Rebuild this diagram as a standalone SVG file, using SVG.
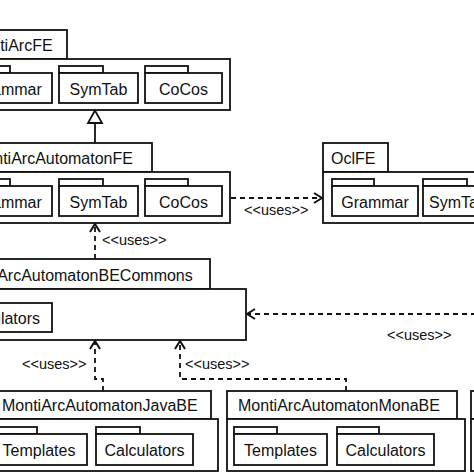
<svg xmlns="http://www.w3.org/2000/svg" width="474" height="474" viewBox="0 0 474 474">
<defs>
<style>
.b{fill:#fff;stroke:#111;stroke-width:1.8}
.t{font-family:"Liberation Sans",Arial,sans-serif;font-size:16px;fill:#111}
.c{text-anchor:middle}
.l{font-family:"Liberation Sans",Arial,sans-serif;font-size:14.5px;fill:#111}
.d{fill:none;stroke:#111;stroke-width:1.8;stroke-dasharray:5,4}
</style>
<marker id="open" viewBox="0 0 10 12" refX="9" refY="6" markerWidth="10" markerHeight="12" markerUnits="userSpaceOnUse" orient="auto">
<path d="M1,1 L9,6 L1,11" fill="none" stroke="#111" stroke-width="2"/>
</marker>
</defs>
<rect width="474" height="474" fill="#fff"/>

<g id="MontiArcFE">
<rect class="b" x="-40" y="30" width="107" height="29"/>
<rect class="b" x="-40" y="59" width="270" height="51"/>
<text class="t" x="-31" y="51">MontiArcFE</text>
<rect class="b" x="-32" y="66" width="42" height="7"/><rect class="b" x="-32" y="73" width="84" height="30"/>
<text class="t c" x="8" y="95">Grammar</text>
<rect class="b" x="59" y="66" width="44" height="7"/><rect class="b" x="59" y="73" width="79" height="30"/>
<text class="t c" x="98.5" y="95">SymTab</text>
<rect class="b" x="145" y="66" width="43" height="7"/><rect class="b" x="145" y="73" width="77" height="30"/>
<text class="t c" x="183.5" y="95">CoCos</text>
</g>

<g id="MontiArcAutomatonFE">
<rect class="b" x="-40" y="143" width="192" height="29"/>
<rect class="b" x="-40" y="172" width="270" height="51"/>
<text class="t" x="-28" y="164">MontiArcAutomatonFE</text>
<rect class="b" x="-32" y="179" width="42" height="7"/><rect class="b" x="-32" y="186" width="84" height="30"/>
<text class="t c" x="8" y="208">Grammar</text>
<rect class="b" x="59" y="179" width="44" height="7"/><rect class="b" x="59" y="186" width="79" height="30"/>
<text class="t c" x="98.5" y="208">SymTab</text>
<rect class="b" x="145" y="179" width="43" height="7"/><rect class="b" x="145" y="186" width="77" height="30"/>
<text class="t c" x="183.5" y="208">CoCos</text>
</g>

<g id="OclFE">
<rect class="b" x="323" y="143" width="65" height="29"/>
<rect class="b" x="323" y="172" width="200" height="51"/>
<text class="t" x="331" y="164">OclFE</text>
<rect class="b" x="332" y="179" width="42" height="7"/><rect class="b" x="332" y="186" width="86" height="30"/>
<text class="t c" x="375" y="208">Grammar</text>
<rect class="b" x="423" y="179" width="44" height="7"/><rect class="b" x="423" y="186" width="90" height="30"/>
<text class="t" x="429" y="208">SymTab</text>
</g>

<g id="MontiArcAutomatonBECommons">
<rect class="b" x="-50" y="259" width="260" height="30"/>
<rect class="b" x="-50" y="289" width="296" height="51"/>
<text class="t" x="-42" y="281">MontiArcAutomatonBECommons</text>
<rect class="b" x="-45" y="296" width="43" height="7"/><rect class="b" x="-45" y="303" width="97" height="29"/>
<text class="t c" x="0" y="324">Calculators</text>
</g>

<g id="MontiArcAutomatonJavaBE">
<rect class="b" x="-8" y="391" width="219" height="28"/>
<rect class="b" x="-8" y="419" width="226" height="52"/>
<text class="t" x="2" y="411">MontiArcAutomatonJavaBE</text>
<rect class="b" x="-9" y="427" width="46" height="7"/><rect class="b" x="-9" y="434" width="96" height="31"/>
<text class="t c" x="39" y="456">Templates</text>
<rect class="b" x="96" y="427" width="44" height="7"/><rect class="b" x="96" y="434" width="97" height="31"/>
<text class="t c" x="144.5" y="456">Calculators</text>
</g>

<g id="MontiArcAutomatonMonaBE">
<rect class="b" x="227" y="391" width="230" height="28"/>
<rect class="b" x="227" y="419" width="238" height="52"/>
<text class="t" x="238" y="411">MontiArcAutomatonMonaBE</text>
<rect class="b" x="234" y="427" width="43" height="7"/><rect class="b" x="234" y="434" width="93" height="31"/>
<text class="t c" x="280.5" y="456">Templates</text>
<rect class="b" x="337" y="427" width="42" height="7"/><rect class="b" x="337" y="434" width="97" height="31"/>
<text class="t c" x="385.5" y="456">Calculators</text>
</g>

<g id="RightPackage">
<rect class="b" x="471" y="391" width="60" height="28"/>
<rect class="b" x="471" y="419" width="60" height="52"/>
</g>

<g id="connectors">
<line x1="95" y1="143" x2="95" y2="123" stroke="#111" stroke-width="1.8"/>
<polygon points="95,110.5 88,123 102,123" fill="#fff" stroke="#111" stroke-width="1.8"/>
<line class="d" x1="231" y1="198" x2="322" y2="198" marker-end="url(#open)"/>
<text class="l" x="244" y="215">&lt;&lt;uses&gt;&gt;</text>
<line class="d" x1="95" y1="259" x2="95" y2="224" marker-end="url(#open)"/>
<text class="l" x="102" y="245">&lt;&lt;uses&gt;&gt;</text>
<line class="d" x1="476" y1="314" x2="247" y2="314" marker-end="url(#open)"/>
<text class="l" x="387" y="340">&lt;&lt;uses&gt;&gt;</text>
<path class="d" d="M103,391 V379 H95 V341" marker-end="url(#open)"/>
<text class="l" x="22" y="369">&lt;&lt;uses&gt;&gt;</text>
<path class="d" d="M346,391 V379 H180 V341" marker-end="url(#open)"/>
<text class="l" x="185" y="369">&lt;&lt;uses&gt;&gt;</text>
</g>
</svg>
